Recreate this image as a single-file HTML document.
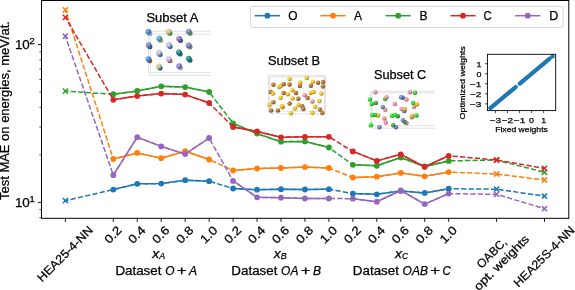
<!DOCTYPE html><html><head><meta charset="utf-8"><style>html,body{margin:0;padding:0;background:#fff;}svg{display:block;will-change:transform;}text{font-family:"Liberation Sans",sans-serif;fill:#000;stroke:#000;stroke-width:0.25px;}</style></head><body>
<svg width="575" height="290" viewBox="0 0 575 290">
<rect x="0" y="0" width="575" height="290" fill="#fff"/>
<defs><radialGradient id="g_lav" cx="0.36" cy="0.34" r="0.72"><stop offset="0" stop-color="#dedcf4"/><stop offset="0.5" stop-color="#c4c0ec"/><stop offset="1" stop-color="#797792"/></radialGradient><radialGradient id="g_blu" cx="0.36" cy="0.34" r="0.72"><stop offset="0" stop-color="#93bee8"/><stop offset="0.5" stop-color="#3c8ad6"/><stop offset="1" stop-color="#255584"/></radialGradient><radialGradient id="g_grn" cx="0.36" cy="0.34" r="0.72"><stop offset="0" stop-color="#92c792"/><stop offset="0.5" stop-color="#3a9a3a"/><stop offset="1" stop-color="#235f23"/></radialGradient><radialGradient id="g_kha" cx="0.36" cy="0.34" r="0.72"><stop offset="0" stop-color="#e8e0c1"/><stop offset="0.5" stop-color="#d6c890"/><stop offset="1" stop-color="#847c59"/></radialGradient><radialGradient id="g_lgr" cx="0.36" cy="0.34" r="0.72"><stop offset="0" stop-color="#a4d79b"/><stop offset="0.5" stop-color="#5ab84a"/><stop offset="1" stop-color="#37722d"/></radialGradient><radialGradient id="g_sla" cx="0.36" cy="0.34" r="0.72"><stop offset="0" stop-color="#b6b9dc"/><stop offset="0.5" stop-color="#7c80c0"/><stop offset="1" stop-color="#4c4f77"/></radialGradient><radialGradient id="g_yel" cx="0.36" cy="0.34" r="0.72"><stop offset="0" stop-color="#edd38d"/><stop offset="0.5" stop-color="#e0b030"/><stop offset="1" stop-color="#8a6d1d"/></radialGradient><radialGradient id="g_sky" cx="0.36" cy="0.34" r="0.72"><stop offset="0" stop-color="#98cef1"/><stop offset="0.5" stop-color="#44a6e6"/><stop offset="1" stop-color="#2a668e"/></radialGradient><radialGradient id="g_tea" cx="0.36" cy="0.34" r="0.72"><stop offset="0" stop-color="#83b4c1"/><stop offset="0.5" stop-color="#1f7890"/><stop offset="1" stop-color="#134a59"/></radialGradient><radialGradient id="g_pur" cx="0.36" cy="0.34" r="0.72"><stop offset="0" stop-color="#c6abdf"/><stop offset="0.5" stop-color="#9868c6"/><stop offset="1" stop-color="#5e407a"/></radialGradient><radialGradient id="g_oli" cx="0.36" cy="0.34" r="0.72"><stop offset="0" stop-color="#cacab0"/><stop offset="0.5" stop-color="#a0a070"/><stop offset="1" stop-color="#636345"/></radialGradient><radialGradient id="g_tel" cx="0.36" cy="0.34" r="0.72"><stop offset="0" stop-color="#85bdbe"/><stop offset="0.5" stop-color="#22888a"/><stop offset="1" stop-color="#155455"/></radialGradient><radialGradient id="g_org" cx="0.36" cy="0.34" r="0.72"><stop offset="0" stop-color="#e0a484"/><stop offset="0.5" stop-color="#c85a20"/><stop offset="1" stop-color="#7c3713"/></radialGradient><radialGradient id="g_red" cx="0.36" cy="0.34" r="0.72"><stop offset="0" stop-color="#e0a7a7"/><stop offset="0.5" stop-color="#c86060"/><stop offset="1" stop-color="#7c3b3b"/></radialGradient><radialGradient id="g_G" cx="0.36" cy="0.34" r="0.72"><stop offset="0" stop-color="#f6dd83"/><stop offset="0.5" stop-color="#f0c21e"/><stop offset="1" stop-color="#947812"/></radialGradient><radialGradient id="g_Br" cx="0.36" cy="0.34" r="0.72"><stop offset="0" stop-color="#d6af8c"/><stop offset="0.5" stop-color="#b56f2e"/><stop offset="1" stop-color="#70441c"/></radialGradient><radialGradient id="g_P" cx="0.36" cy="0.34" r="0.72"><stop offset="0" stop-color="#f1c1cb"/><stop offset="0.5" stop-color="#e68fa2"/><stop offset="1" stop-color="#8e5864"/></radialGradient><radialGradient id="g_BG" cx="0.36" cy="0.34" r="0.72"><stop offset="0" stop-color="#85ed85"/><stop offset="0.5" stop-color="#22e022"/><stop offset="1" stop-color="#158a15"/></radialGradient><radialGradient id="g_DG" cx="0.36" cy="0.34" r="0.72"><stop offset="0" stop-color="#93c993"/><stop offset="0.5" stop-color="#3c9e3c"/><stop offset="1" stop-color="#256125"/></radialGradient><radialGradient id="g_Bl" cx="0.36" cy="0.34" r="0.72"><stop offset="0" stop-color="#aeb9dc"/><stop offset="0.5" stop-color="#6c80c0"/><stop offset="1" stop-color="#424f77"/></radialGradient><radialGradient id="g_Go" cx="0.36" cy="0.34" r="0.72"><stop offset="0" stop-color="#f6d583"/><stop offset="0.5" stop-color="#f0b41e"/><stop offset="1" stop-color="#946f12"/></radialGradient></defs>
<line x1="148.5" y1="31.2" x2="210.6" y2="31.2" stroke="#d6d6d6" stroke-width="0.75"/>
<line x1="150.2" y1="34.2" x2="210.6" y2="34.2" stroke="#d6d6d6" stroke-width="0.75"/>
<line x1="148.5" y1="72.4" x2="210.6" y2="72.4" stroke="#d6d6d6" stroke-width="0.75"/>
<line x1="149.2" y1="75.2" x2="210.6" y2="75.2" stroke="#d6d6d6" stroke-width="0.75"/>
<line x1="148.5" y1="31.2" x2="148.5" y2="72.4" stroke="#d6d6d6" stroke-width="0.75"/>
<line x1="150.2" y1="34.2" x2="150.2" y2="75.2" stroke="#d6d6d6" stroke-width="0.75"/>
<circle cx="149.70" cy="33.50" r="2.5" fill="url(#g_lav)"/>
<circle cx="148.40" cy="31.80" r="2.8" fill="url(#g_blu)"/>
<circle cx="169.90" cy="33.30" r="2.5" fill="url(#g_grn)"/>
<circle cx="168.60" cy="31.60" r="2.8" fill="url(#g_kha)"/>
<circle cx="190.00" cy="33.20" r="2.5" fill="url(#g_lgr)"/>
<circle cx="188.70" cy="31.50" r="2.8" fill="url(#g_sla)"/>
<circle cx="160.50" cy="40.30" r="2.5" fill="url(#g_yel)"/>
<circle cx="159.20" cy="38.60" r="2.8" fill="url(#g_sky)"/>
<circle cx="180.50" cy="40.40" r="2.5" fill="url(#g_tea)"/>
<circle cx="179.20" cy="38.70" r="2.8" fill="url(#g_pur)"/>
<circle cx="149.90" cy="46.80" r="2.5" fill="url(#g_tea)"/>
<circle cx="148.60" cy="45.10" r="2.8" fill="url(#g_sla)"/>
<circle cx="170.10" cy="46.60" r="2.5" fill="url(#g_tea)"/>
<circle cx="168.80" cy="44.90" r="2.8" fill="url(#g_lav)"/>
<circle cx="190.00" cy="47.10" r="2.5" fill="url(#g_oli)"/>
<circle cx="188.70" cy="45.40" r="2.8" fill="url(#g_sla)"/>
<circle cx="160.10" cy="54.60" r="2.5" fill="url(#g_tea)"/>
<circle cx="158.80" cy="52.90" r="2.8" fill="url(#g_lav)"/>
<circle cx="180.20" cy="54.10" r="2.5" fill="url(#g_tea)"/>
<circle cx="178.90" cy="52.40" r="2.8" fill="url(#g_tel)"/>
<circle cx="149.70" cy="60.80" r="2.5" fill="url(#g_org)"/>
<circle cx="148.40" cy="59.10" r="2.8" fill="url(#g_blu)"/>
<circle cx="169.90" cy="60.80" r="2.5" fill="url(#g_red)"/>
<circle cx="168.60" cy="59.10" r="2.8" fill="url(#g_lav)"/>
<circle cx="190.00" cy="60.30" r="2.5" fill="url(#g_tea)"/>
<circle cx="188.70" cy="58.60" r="2.8" fill="url(#g_tel)"/>
<circle cx="160.10" cy="68.00" r="2.5" fill="url(#g_tea)"/>
<circle cx="158.80" cy="66.30" r="2.8" fill="url(#g_kha)"/>
<circle cx="180.40" cy="67.80" r="2.5" fill="url(#g_lav)"/>
<circle cx="179.10" cy="66.10" r="2.8" fill="url(#g_sla)"/>
<line x1="268.5" y1="75.4" x2="324.7" y2="75.4" stroke="#d6d6d6" stroke-width="0.75"/>
<line x1="269.8" y1="77.0" x2="325.4" y2="77.0" stroke="#d6d6d6" stroke-width="0.75"/>
<line x1="268.5" y1="111.3" x2="324.7" y2="111.3" stroke="#d6d6d6" stroke-width="0.75"/>
<line x1="269.8" y1="113.8" x2="325.4" y2="113.8" stroke="#d6d6d6" stroke-width="0.75"/>
<line x1="268.5" y1="75.4" x2="268.5" y2="111.3" stroke="#d6d6d6" stroke-width="0.75"/>
<line x1="269.8" y1="77.0" x2="269.8" y2="113.8" stroke="#d6d6d6" stroke-width="0.75"/>
<line x1="324.7" y1="75.4" x2="324.7" y2="111.3" stroke="#d6d6d6" stroke-width="0.75"/>
<line x1="325.4" y1="77.0" x2="325.4" y2="113.8" stroke="#d6d6d6" stroke-width="0.75"/>
<circle cx="289.6" cy="79.0" r="2.25" fill="url(#g_G)"/>
<circle cx="273.4" cy="84.8" r="2.25" fill="url(#g_Br)"/>
<circle cx="279.2" cy="86.9" r="2.25" fill="url(#g_G)"/>
<circle cx="280.6" cy="86.1" r="2.25" fill="url(#g_G)"/>
<circle cx="283.7" cy="84.3" r="2.25" fill="url(#g_Br)"/>
<circle cx="289.6" cy="84.5" r="2.25" fill="url(#g_Br)"/>
<circle cx="292.3" cy="90.2" r="2.25" fill="url(#g_G)"/>
<circle cx="296.0" cy="92.9" r="2.25" fill="url(#g_Br)"/>
<circle cx="270.7" cy="92.0" r="2.25" fill="url(#g_Br)"/>
<circle cx="273.0" cy="93.5" r="2.25" fill="url(#g_G)"/>
<circle cx="283.7" cy="93.1" r="2.25" fill="url(#g_Br)"/>
<circle cx="287.8" cy="94.2" r="2.25" fill="url(#g_G)"/>
<circle cx="306.8" cy="78.1" r="2.25" fill="url(#g_G)"/>
<circle cx="299.8" cy="86.0" r="2.25" fill="url(#g_Br)"/>
<circle cx="300.3" cy="82.6" r="2.25" fill="url(#g_G)"/>
<circle cx="310.9" cy="85.7" r="2.25" fill="url(#g_Br)"/>
<circle cx="312.8" cy="81.7" r="2.25" fill="url(#g_G)"/>
<circle cx="318.0" cy="82.7" r="2.25" fill="url(#g_Br)"/>
<circle cx="323.1" cy="82.1" r="2.25" fill="url(#g_Br)"/>
<circle cx="322.9" cy="86.6" r="2.25" fill="url(#g_Br)"/>
<circle cx="310.6" cy="92.9" r="2.25" fill="url(#g_G)"/>
<circle cx="313.6" cy="92.0" r="2.25" fill="url(#g_G)"/>
<circle cx="321.4" cy="93.5" r="2.25" fill="url(#g_G)"/>
<circle cx="304.8" cy="95.3" r="2.25" fill="url(#g_P)"/>
<circle cx="280.6" cy="97.8" r="2.25" fill="url(#g_G)"/>
<circle cx="292.7" cy="98.5" r="2.25" fill="url(#g_G)"/>
<circle cx="298.3" cy="98.7" r="2.25" fill="url(#g_Br)"/>
<circle cx="273.4" cy="102.3" r="2.25" fill="url(#g_Br)"/>
<circle cx="269.4" cy="105.0" r="2.25" fill="url(#g_G)"/>
<circle cx="289.6" cy="103.5" r="2.25" fill="url(#g_Br)"/>
<circle cx="282.8" cy="107.2" r="2.25" fill="url(#g_G)"/>
<circle cx="281.9" cy="106.3" r="2.25" fill="url(#g_G)"/>
<circle cx="294.9" cy="108.6" r="2.25" fill="url(#g_G)"/>
<circle cx="298.5" cy="105.0" r="2.25" fill="url(#g_G)"/>
<circle cx="271.2" cy="110.4" r="2.25" fill="url(#g_Br)"/>
<circle cx="277.9" cy="110.4" r="2.25" fill="url(#g_Br)"/>
<circle cx="290.9" cy="113.3" r="2.25" fill="url(#g_G)"/>
<circle cx="307.6" cy="98.1" r="2.25" fill="url(#g_Br)"/>
<circle cx="312.4" cy="101.4" r="2.25" fill="url(#g_P)"/>
<circle cx="319.3" cy="101.1" r="2.25" fill="url(#g_G)"/>
<circle cx="302.3" cy="106.3" r="2.25" fill="url(#g_Br)"/>
<circle cx="303.4" cy="108.9" r="2.25" fill="url(#g_Br)"/>
<circle cx="315.1" cy="106.8" r="2.25" fill="url(#g_G)"/>
<circle cx="320.0" cy="109.5" r="2.25" fill="url(#g_Br)"/>
<circle cx="322.3" cy="113.1" r="2.25" fill="url(#g_Br)"/>
<circle cx="312.4" cy="112.8" r="2.25" fill="url(#g_G)"/>
<line x1="370.9" y1="91.4" x2="434.8" y2="91.4" stroke="#d6d6d6" stroke-width="0.75"/>
<line x1="371.8" y1="93.0" x2="434.8" y2="93.0" stroke="#d6d6d6" stroke-width="0.75"/>
<line x1="370.9" y1="125.7" x2="434.8" y2="125.7" stroke="#d6d6d6" stroke-width="0.75"/>
<line x1="371.8" y1="128.2" x2="434.8" y2="128.2" stroke="#d6d6d6" stroke-width="0.75"/>
<line x1="370.9" y1="91.4" x2="370.9" y2="125.7" stroke="#d6d6d6" stroke-width="0.75"/>
<line x1="371.8" y1="93.0" x2="371.8" y2="128.2" stroke="#d6d6d6" stroke-width="0.75"/>
<circle cx="375.4" cy="92.3" r="2.25" fill="url(#g_P)"/>
<circle cx="370.0" cy="99.4" r="2.25" fill="url(#g_BG)"/>
<circle cx="375.8" cy="103.0" r="2.25" fill="url(#g_DG)"/>
<circle cx="371.8" cy="103.9" r="2.25" fill="url(#g_BG)"/>
<circle cx="385.2" cy="99.0" r="2.25" fill="url(#g_BG)"/>
<circle cx="386.4" cy="97.2" r="2.25" fill="url(#g_P)"/>
<circle cx="394.8" cy="104.1" r="2.25" fill="url(#g_P)"/>
<circle cx="385.2" cy="109.8" r="2.25" fill="url(#g_P)"/>
<circle cx="382.8" cy="107.0" r="2.25" fill="url(#g_Bl)"/>
<circle cx="410.1" cy="92.3" r="2.25" fill="url(#g_P)"/>
<circle cx="415.0" cy="92.7" r="2.25" fill="url(#g_BG)"/>
<circle cx="406.5" cy="99.6" r="2.25" fill="url(#g_P)"/>
<circle cx="402.9" cy="97.7" r="2.25" fill="url(#g_Bl)"/>
<circle cx="401.1" cy="97.2" r="2.25" fill="url(#g_Bl)"/>
<circle cx="414.0" cy="106.8" r="2.25" fill="url(#g_P)"/>
<circle cx="413.2" cy="103.0" r="2.25" fill="url(#g_BG)"/>
<circle cx="417.0" cy="104.4" r="2.25" fill="url(#g_Go)"/>
<circle cx="404.3" cy="110.9" r="2.25" fill="url(#g_Bl)"/>
<circle cx="401.6" cy="109.0" r="2.25" fill="url(#g_P)"/>
<circle cx="404.7" cy="109.0" r="2.25" fill="url(#g_Go)"/>
<circle cx="378.1" cy="115.4" r="2.25" fill="url(#g_Go)"/>
<circle cx="375.0" cy="115.0" r="2.25" fill="url(#g_BG)"/>
<circle cx="372.3" cy="115.0" r="2.25" fill="url(#g_BG)"/>
<circle cx="384.4" cy="118.4" r="2.25" fill="url(#g_P)"/>
<circle cx="385.7" cy="122.6" r="2.25" fill="url(#g_P)"/>
<circle cx="397.8" cy="116.3" r="2.25" fill="url(#g_DG)"/>
<circle cx="395.1" cy="115.1" r="2.25" fill="url(#g_BG)"/>
<circle cx="392.0" cy="115.8" r="2.25" fill="url(#g_BG)"/>
<circle cx="370.9" cy="125.2" r="2.25" fill="url(#g_BG)"/>
<circle cx="379.4" cy="127.3" r="2.25" fill="url(#g_Bl)"/>
<circle cx="396.0" cy="127.3" r="2.25" fill="url(#g_Bl)"/>
<circle cx="393.3" cy="125.2" r="2.25" fill="url(#g_DG)"/>
<circle cx="411.9" cy="117.2" r="2.25" fill="url(#g_P)"/>
<circle cx="412.3" cy="115.7" r="2.25" fill="url(#g_Go)"/>
<circle cx="416.4" cy="115.4" r="2.25" fill="url(#g_BG)"/>
<circle cx="406.5" cy="122.9" r="2.25" fill="url(#g_P)"/>
<circle cx="404.7" cy="122.1" r="2.25" fill="url(#g_DG)"/>
<circle cx="402.9" cy="120.3" r="2.25" fill="url(#g_Bl)"/>
<polyline points="65.40,200.70 113.31,189.60 137.26,183.80 161.22,183.60 185.18,180.20 209.13,181.20 233.09,188.50 257.04,189.70 281.00,189.20 304.95,189.50 328.90,189.20 352.86,193.60 376.81,194.30 400.77,190.90 424.73,192.90 448.68,188.70 496.59,189.20 544.50,196.20" stroke="#1f77b4" stroke-width="1.5" stroke-dasharray="5.25 2.2" stroke-dashoffset="2.1" fill="none"/>
<polyline points="113.31,189.60 137.26,183.80 161.22,183.60 185.18,180.20 209.13,181.20" stroke="#1f77b4" stroke-width="1.5" fill="none" stroke-linejoin="round"/>
<polyline points="233.09,188.50 257.04,189.70 281.00,189.20 304.95,189.50 328.90,189.20" stroke="#1f77b4" stroke-width="1.5" fill="none" stroke-linejoin="round"/>
<polyline points="352.86,193.60 376.81,194.30 400.77,190.90 424.73,192.90 448.68,188.70" stroke="#1f77b4" stroke-width="1.5" fill="none" stroke-linejoin="round"/>
<path d="M62.80,198.10L68.00,203.30M62.80,203.30L68.00,198.10" stroke="#1f77b4" stroke-width="1.5" fill="none"/>
<circle cx="113.31" cy="189.60" r="2.9" fill="#1f77b4"/>
<circle cx="137.26" cy="183.80" r="2.9" fill="#1f77b4"/>
<circle cx="161.22" cy="183.60" r="2.9" fill="#1f77b4"/>
<circle cx="185.18" cy="180.20" r="2.9" fill="#1f77b4"/>
<circle cx="209.13" cy="181.20" r="2.9" fill="#1f77b4"/>
<circle cx="233.09" cy="188.50" r="2.9" fill="#1f77b4"/>
<circle cx="257.04" cy="189.70" r="2.9" fill="#1f77b4"/>
<circle cx="281.00" cy="189.20" r="2.9" fill="#1f77b4"/>
<circle cx="304.95" cy="189.50" r="2.9" fill="#1f77b4"/>
<circle cx="328.90" cy="189.20" r="2.9" fill="#1f77b4"/>
<circle cx="352.86" cy="193.60" r="2.9" fill="#1f77b4"/>
<circle cx="376.81" cy="194.30" r="2.9" fill="#1f77b4"/>
<circle cx="400.77" cy="190.90" r="2.9" fill="#1f77b4"/>
<circle cx="424.73" cy="192.90" r="2.9" fill="#1f77b4"/>
<circle cx="448.68" cy="188.70" r="2.9" fill="#1f77b4"/>
<path d="M493.99,186.60L499.19,191.80M493.99,191.80L499.19,186.60" stroke="#1f77b4" stroke-width="1.5" fill="none"/>
<path d="M541.90,193.60L547.10,198.80M541.90,198.80L547.10,193.60" stroke="#1f77b4" stroke-width="1.5" fill="none"/>
<polyline points="65.40,9.90 113.31,159.00 137.26,152.90 161.22,158.20 185.18,151.20 209.13,159.50 233.09,170.50 257.04,168.50 281.00,168.00 304.95,167.10 328.90,168.00 352.86,177.50 376.81,176.70 400.77,172.90 424.73,176.30 448.68,172.10 496.59,174.00 544.50,180.00" stroke="#ff7f0e" stroke-width="1.5" stroke-dasharray="5.25 2.2" stroke-dashoffset="2.1" fill="none"/>
<polyline points="113.31,159.00 137.26,152.90 161.22,158.20 185.18,151.20 209.13,159.50" stroke="#ff7f0e" stroke-width="1.5" fill="none" stroke-linejoin="round"/>
<polyline points="233.09,170.50 257.04,168.50 281.00,168.00 304.95,167.10 328.90,168.00" stroke="#ff7f0e" stroke-width="1.5" fill="none" stroke-linejoin="round"/>
<polyline points="352.86,177.50 376.81,176.70 400.77,172.90 424.73,176.30 448.68,172.10" stroke="#ff7f0e" stroke-width="1.5" fill="none" stroke-linejoin="round"/>
<path d="M62.80,7.30L68.00,12.50M62.80,12.50L68.00,7.30" stroke="#ff7f0e" stroke-width="1.5" fill="none"/>
<circle cx="113.31" cy="159.00" r="2.9" fill="#ff7f0e"/>
<circle cx="137.26" cy="152.90" r="2.9" fill="#ff7f0e"/>
<circle cx="161.22" cy="158.20" r="2.9" fill="#ff7f0e"/>
<circle cx="185.18" cy="151.20" r="2.9" fill="#ff7f0e"/>
<circle cx="209.13" cy="159.50" r="2.9" fill="#ff7f0e"/>
<circle cx="233.09" cy="170.50" r="2.9" fill="#ff7f0e"/>
<circle cx="257.04" cy="168.50" r="2.9" fill="#ff7f0e"/>
<circle cx="281.00" cy="168.00" r="2.9" fill="#ff7f0e"/>
<circle cx="304.95" cy="167.10" r="2.9" fill="#ff7f0e"/>
<circle cx="328.90" cy="168.00" r="2.9" fill="#ff7f0e"/>
<circle cx="352.86" cy="177.50" r="2.9" fill="#ff7f0e"/>
<circle cx="376.81" cy="176.70" r="2.9" fill="#ff7f0e"/>
<circle cx="400.77" cy="172.90" r="2.9" fill="#ff7f0e"/>
<circle cx="424.73" cy="176.30" r="2.9" fill="#ff7f0e"/>
<circle cx="448.68" cy="172.10" r="2.9" fill="#ff7f0e"/>
<path d="M493.99,171.40L499.19,176.60M493.99,176.60L499.19,171.40" stroke="#ff7f0e" stroke-width="1.5" fill="none"/>
<path d="M541.90,177.40L547.10,182.60M541.90,182.60L547.10,177.40" stroke="#ff7f0e" stroke-width="1.5" fill="none"/>
<polyline points="65.40,91.10 113.31,94.20 137.26,90.90 161.22,86.30 185.18,87.10 209.13,91.90 233.09,123.40 257.04,133.60 281.00,141.70 304.95,141.40 328.90,147.50 352.86,164.80 376.81,165.80 400.77,157.50 424.73,166.50 448.68,160.90 496.59,160.00 544.50,172.30" stroke="#2ca02c" stroke-width="1.5" stroke-dasharray="5.25 2.2" stroke-dashoffset="2.1" fill="none"/>
<polyline points="113.31,94.20 137.26,90.90 161.22,86.30 185.18,87.10 209.13,91.90" stroke="#2ca02c" stroke-width="1.5" fill="none" stroke-linejoin="round"/>
<polyline points="233.09,123.40 257.04,133.60 281.00,141.70 304.95,141.40 328.90,147.50" stroke="#2ca02c" stroke-width="1.5" fill="none" stroke-linejoin="round"/>
<polyline points="352.86,164.80 376.81,165.80 400.77,157.50 424.73,166.50 448.68,160.90" stroke="#2ca02c" stroke-width="1.5" fill="none" stroke-linejoin="round"/>
<path d="M62.80,88.50L68.00,93.70M62.80,93.70L68.00,88.50" stroke="#2ca02c" stroke-width="1.5" fill="none"/>
<circle cx="113.31" cy="94.20" r="2.9" fill="#2ca02c"/>
<circle cx="137.26" cy="90.90" r="2.9" fill="#2ca02c"/>
<circle cx="161.22" cy="86.30" r="2.9" fill="#2ca02c"/>
<circle cx="185.18" cy="87.10" r="2.9" fill="#2ca02c"/>
<circle cx="209.13" cy="91.90" r="2.9" fill="#2ca02c"/>
<circle cx="233.09" cy="123.40" r="2.9" fill="#2ca02c"/>
<circle cx="257.04" cy="133.60" r="2.9" fill="#2ca02c"/>
<circle cx="281.00" cy="141.70" r="2.9" fill="#2ca02c"/>
<circle cx="304.95" cy="141.40" r="2.9" fill="#2ca02c"/>
<circle cx="328.90" cy="147.50" r="2.9" fill="#2ca02c"/>
<circle cx="352.86" cy="164.80" r="2.9" fill="#2ca02c"/>
<circle cx="376.81" cy="165.80" r="2.9" fill="#2ca02c"/>
<circle cx="400.77" cy="157.50" r="2.9" fill="#2ca02c"/>
<circle cx="424.73" cy="166.50" r="2.9" fill="#2ca02c"/>
<circle cx="448.68" cy="160.90" r="2.9" fill="#2ca02c"/>
<path d="M493.99,157.40L499.19,162.60M493.99,162.60L499.19,157.40" stroke="#2ca02c" stroke-width="1.5" fill="none"/>
<path d="M541.90,169.70L547.10,174.90M541.90,174.90L547.10,169.70" stroke="#2ca02c" stroke-width="1.5" fill="none"/>
<polyline points="65.40,17.40 113.31,99.80 137.26,96.10 161.22,93.60 185.18,94.60 209.13,103.00 233.09,127.00 257.04,131.40 281.00,137.30 304.95,136.80 328.90,136.80 352.86,151.40 376.81,160.90 400.77,154.30 424.73,166.80 448.68,155.80 496.59,160.00 544.50,168.40" stroke="#d62728" stroke-width="1.5" stroke-dasharray="5.25 2.2" stroke-dashoffset="2.1" fill="none"/>
<polyline points="113.31,99.80 137.26,96.10 161.22,93.60 185.18,94.60 209.13,103.00" stroke="#d62728" stroke-width="1.5" fill="none" stroke-linejoin="round"/>
<polyline points="233.09,127.00 257.04,131.40 281.00,137.30 304.95,136.80 328.90,136.80" stroke="#d62728" stroke-width="1.5" fill="none" stroke-linejoin="round"/>
<polyline points="352.86,151.40 376.81,160.90 400.77,154.30 424.73,166.80 448.68,155.80" stroke="#d62728" stroke-width="1.5" fill="none" stroke-linejoin="round"/>
<path d="M62.80,14.80L68.00,20.00M62.80,20.00L68.00,14.80" stroke="#d62728" stroke-width="1.5" fill="none"/>
<circle cx="113.31" cy="99.80" r="2.9" fill="#d62728"/>
<circle cx="137.26" cy="96.10" r="2.9" fill="#d62728"/>
<circle cx="161.22" cy="93.60" r="2.9" fill="#d62728"/>
<circle cx="185.18" cy="94.60" r="2.9" fill="#d62728"/>
<circle cx="209.13" cy="103.00" r="2.9" fill="#d62728"/>
<circle cx="233.09" cy="127.00" r="2.9" fill="#d62728"/>
<circle cx="257.04" cy="131.40" r="2.9" fill="#d62728"/>
<circle cx="281.00" cy="137.30" r="2.9" fill="#d62728"/>
<circle cx="304.95" cy="136.80" r="2.9" fill="#d62728"/>
<circle cx="328.90" cy="136.80" r="2.9" fill="#d62728"/>
<circle cx="352.86" cy="151.40" r="2.9" fill="#d62728"/>
<circle cx="376.81" cy="160.90" r="2.9" fill="#d62728"/>
<circle cx="400.77" cy="154.30" r="2.9" fill="#d62728"/>
<circle cx="424.73" cy="166.80" r="2.9" fill="#d62728"/>
<circle cx="448.68" cy="155.80" r="2.9" fill="#d62728"/>
<path d="M493.99,157.40L499.19,162.60M493.99,162.60L499.19,157.40" stroke="#d62728" stroke-width="1.5" fill="none"/>
<path d="M541.90,165.80L547.10,171.00M541.90,171.00L547.10,165.80" stroke="#d62728" stroke-width="1.5" fill="none"/>
<polyline points="65.40,36.20 113.31,175.20 137.26,137.20 161.22,146.40 185.18,154.10 209.13,138.00 233.09,180.90 257.04,197.30 281.00,197.70 304.95,198.50 328.90,198.50 352.86,198.70 376.81,201.70 400.77,190.50 424.73,204.10 448.68,193.60 496.59,194.30 544.50,208.70" stroke="#9467bd" stroke-width="1.5" stroke-dasharray="5.25 2.2" stroke-dashoffset="2.1" fill="none"/>
<polyline points="113.31,175.20 137.26,137.20 161.22,146.40 185.18,154.10 209.13,138.00" stroke="#9467bd" stroke-width="1.5" fill="none" stroke-linejoin="round"/>
<polyline points="233.09,180.90 257.04,197.30 281.00,197.70 304.95,198.50 328.90,198.50" stroke="#9467bd" stroke-width="1.5" fill="none" stroke-linejoin="round"/>
<polyline points="352.86,198.70 376.81,201.70 400.77,190.50 424.73,204.10 448.68,193.60" stroke="#9467bd" stroke-width="1.5" fill="none" stroke-linejoin="round"/>
<path d="M62.80,33.60L68.00,38.80M62.80,38.80L68.00,33.60" stroke="#9467bd" stroke-width="1.5" fill="none"/>
<circle cx="113.31" cy="175.20" r="2.9" fill="#9467bd"/>
<circle cx="137.26" cy="137.20" r="2.9" fill="#9467bd"/>
<circle cx="161.22" cy="146.40" r="2.9" fill="#9467bd"/>
<circle cx="185.18" cy="154.10" r="2.9" fill="#9467bd"/>
<circle cx="209.13" cy="138.00" r="2.9" fill="#9467bd"/>
<circle cx="233.09" cy="180.90" r="2.9" fill="#9467bd"/>
<circle cx="257.04" cy="197.30" r="2.9" fill="#9467bd"/>
<circle cx="281.00" cy="197.70" r="2.9" fill="#9467bd"/>
<circle cx="304.95" cy="198.50" r="2.9" fill="#9467bd"/>
<circle cx="328.90" cy="198.50" r="2.9" fill="#9467bd"/>
<circle cx="352.86" cy="198.70" r="2.9" fill="#9467bd"/>
<circle cx="376.81" cy="201.70" r="2.9" fill="#9467bd"/>
<circle cx="400.77" cy="190.50" r="2.9" fill="#9467bd"/>
<circle cx="424.73" cy="204.10" r="2.9" fill="#9467bd"/>
<circle cx="448.68" cy="193.60" r="2.9" fill="#9467bd"/>
<path d="M493.99,191.70L499.19,196.90M493.99,196.90L499.19,191.70" stroke="#9467bd" stroke-width="1.5" fill="none"/>
<path d="M541.90,206.10L547.10,211.30M541.90,211.30L547.10,206.10" stroke="#9467bd" stroke-width="1.5" fill="none"/>
<rect x="41.5" y="0.5" width="527.3" height="217.8" fill="none" stroke="#000" stroke-width="1"/>
<line x1="37.9" y1="202.40" x2="41.5" y2="202.40" stroke="#000" stroke-width="0.9"/>
<line x1="37.9" y1="44.50" x2="41.5" y2="44.50" stroke="#000" stroke-width="0.9"/>
<line x1="39.4" y1="217.70" x2="41.5" y2="217.70" stroke="#000" stroke-width="0.7"/>
<line x1="39.4" y1="209.63" x2="41.5" y2="209.63" stroke="#000" stroke-width="0.7"/>
<line x1="39.4" y1="154.87" x2="41.5" y2="154.87" stroke="#000" stroke-width="0.7"/>
<line x1="39.4" y1="127.06" x2="41.5" y2="127.06" stroke="#000" stroke-width="0.7"/>
<line x1="39.4" y1="107.33" x2="41.5" y2="107.33" stroke="#000" stroke-width="0.7"/>
<line x1="39.4" y1="92.03" x2="41.5" y2="92.03" stroke="#000" stroke-width="0.7"/>
<line x1="39.4" y1="79.53" x2="41.5" y2="79.53" stroke="#000" stroke-width="0.7"/>
<line x1="39.4" y1="68.96" x2="41.5" y2="68.96" stroke="#000" stroke-width="0.7"/>
<line x1="39.4" y1="59.80" x2="41.5" y2="59.80" stroke="#000" stroke-width="0.7"/>
<line x1="39.4" y1="51.73" x2="41.5" y2="51.73" stroke="#000" stroke-width="0.7"/>
<line x1="65.40" y1="218.3" x2="65.40" y2="221.9" stroke="#000" stroke-width="0.9"/>
<line x1="113.31" y1="218.3" x2="113.31" y2="221.9" stroke="#000" stroke-width="0.9"/>
<line x1="137.26" y1="218.3" x2="137.26" y2="221.9" stroke="#000" stroke-width="0.9"/>
<line x1="161.22" y1="218.3" x2="161.22" y2="221.9" stroke="#000" stroke-width="0.9"/>
<line x1="185.18" y1="218.3" x2="185.18" y2="221.9" stroke="#000" stroke-width="0.9"/>
<line x1="209.13" y1="218.3" x2="209.13" y2="221.9" stroke="#000" stroke-width="0.9"/>
<line x1="233.09" y1="218.3" x2="233.09" y2="221.9" stroke="#000" stroke-width="0.9"/>
<line x1="257.04" y1="218.3" x2="257.04" y2="221.9" stroke="#000" stroke-width="0.9"/>
<line x1="281.00" y1="218.3" x2="281.00" y2="221.9" stroke="#000" stroke-width="0.9"/>
<line x1="304.95" y1="218.3" x2="304.95" y2="221.9" stroke="#000" stroke-width="0.9"/>
<line x1="328.90" y1="218.3" x2="328.90" y2="221.9" stroke="#000" stroke-width="0.9"/>
<line x1="352.86" y1="218.3" x2="352.86" y2="221.9" stroke="#000" stroke-width="0.9"/>
<line x1="376.81" y1="218.3" x2="376.81" y2="221.9" stroke="#000" stroke-width="0.9"/>
<line x1="400.77" y1="218.3" x2="400.77" y2="221.9" stroke="#000" stroke-width="0.9"/>
<line x1="424.73" y1="218.3" x2="424.73" y2="221.9" stroke="#000" stroke-width="0.9"/>
<line x1="448.68" y1="218.3" x2="448.68" y2="221.9" stroke="#000" stroke-width="0.9"/>
<line x1="496.59" y1="218.3" x2="496.59" y2="221.9" stroke="#000" stroke-width="0.9"/>
<line x1="544.50" y1="218.3" x2="544.50" y2="221.9" stroke="#000" stroke-width="0.9"/>
<text x="14.90" y="206.50" font-size="11.9" textLength="14.95" lengthAdjust="spacingAndGlyphs">10</text>
<text x="29.60" y="201.50" font-size="8.33" textLength="5.23" lengthAdjust="spacingAndGlyphs">1</text>
<text x="14.90" y="48.60" font-size="11.9" textLength="14.95" lengthAdjust="spacingAndGlyphs">10</text>
<text x="29.60" y="43.60" font-size="8.33" textLength="5.23" lengthAdjust="spacingAndGlyphs">2</text>
<g transform="translate(9.3,110.6) rotate(-90)"><text x="0.00" y="0.00" font-size="11.9" text-anchor="middle" textLength="178.87" lengthAdjust="spacingAndGlyphs">Test MAE on energies, meV/at.</text></g>
<g transform="translate(64.80,253.66) rotate(-45)"><text x="0.00" y="4.28" font-size="11.9" text-anchor="middle" textLength="72.78" lengthAdjust="spacingAndGlyphs">HEA25-4-NN</text></g>
<g transform="translate(112.71,234.53) rotate(-45)"><text x="0.00" y="4.28" font-size="11.9" text-anchor="middle" textLength="18.69" lengthAdjust="spacingAndGlyphs">0.2</text></g>
<g transform="translate(136.66,234.53) rotate(-45)"><text x="0.00" y="4.28" font-size="11.9" text-anchor="middle" textLength="18.69" lengthAdjust="spacingAndGlyphs">0.4</text></g>
<g transform="translate(160.62,234.53) rotate(-45)"><text x="0.00" y="4.28" font-size="11.9" text-anchor="middle" textLength="18.69" lengthAdjust="spacingAndGlyphs">0.6</text></g>
<g transform="translate(184.58,234.53) rotate(-45)"><text x="0.00" y="4.28" font-size="11.9" text-anchor="middle" textLength="18.69" lengthAdjust="spacingAndGlyphs">0.8</text></g>
<g transform="translate(208.53,234.53) rotate(-45)"><text x="0.00" y="4.28" font-size="11.9" text-anchor="middle" textLength="18.69" lengthAdjust="spacingAndGlyphs">1.0</text></g>
<g transform="translate(232.49,234.53) rotate(-45)"><text x="0.00" y="4.28" font-size="11.9" text-anchor="middle" textLength="18.69" lengthAdjust="spacingAndGlyphs">0.2</text></g>
<g transform="translate(256.44,234.53) rotate(-45)"><text x="0.00" y="4.28" font-size="11.9" text-anchor="middle" textLength="18.69" lengthAdjust="spacingAndGlyphs">0.4</text></g>
<g transform="translate(280.39,234.53) rotate(-45)"><text x="0.00" y="4.28" font-size="11.9" text-anchor="middle" textLength="18.69" lengthAdjust="spacingAndGlyphs">0.6</text></g>
<g transform="translate(304.35,234.53) rotate(-45)"><text x="0.00" y="4.28" font-size="11.9" text-anchor="middle" textLength="18.69" lengthAdjust="spacingAndGlyphs">0.8</text></g>
<g transform="translate(328.30,234.53) rotate(-45)"><text x="0.00" y="4.28" font-size="11.9" text-anchor="middle" textLength="18.69" lengthAdjust="spacingAndGlyphs">1.0</text></g>
<g transform="translate(352.26,234.53) rotate(-45)"><text x="0.00" y="4.28" font-size="11.9" text-anchor="middle" textLength="18.69" lengthAdjust="spacingAndGlyphs">0.2</text></g>
<g transform="translate(376.21,234.53) rotate(-45)"><text x="0.00" y="4.28" font-size="11.9" text-anchor="middle" textLength="18.69" lengthAdjust="spacingAndGlyphs">0.4</text></g>
<g transform="translate(400.17,234.53) rotate(-45)"><text x="0.00" y="4.28" font-size="11.9" text-anchor="middle" textLength="18.69" lengthAdjust="spacingAndGlyphs">0.6</text></g>
<g transform="translate(424.12,234.53) rotate(-45)"><text x="0.00" y="4.28" font-size="11.9" text-anchor="middle" textLength="18.69" lengthAdjust="spacingAndGlyphs">0.8</text></g>
<g transform="translate(448.08,234.53) rotate(-45)"><text x="0.00" y="4.28" font-size="11.9" text-anchor="middle" textLength="18.69" lengthAdjust="spacingAndGlyphs">1.0</text></g>
<g transform="translate(543.90,256.29) rotate(-45)"><text x="0.00" y="4.28" font-size="11.9" text-anchor="middle" textLength="80.24" lengthAdjust="spacingAndGlyphs">HEA25S-4-NN</text></g>
<g transform="translate(495.99,257.3) rotate(-45)"><text x="0.00" y="-2.00" font-size="11.9" text-anchor="middle" textLength="36.87" lengthAdjust="spacingAndGlyphs">OABC,</text><text x="0.00" y="11.70" font-size="11.9" text-anchor="middle" textLength="72.46" lengthAdjust="spacingAndGlyphs">opt. weights</text></g>
<text x="152.31" y="257.80" font-size="11.9" font-style="italic" textLength="6.95" lengthAdjust="spacingAndGlyphs">x</text>
<text x="159.36" y="259.40" font-size="9.044" font-style="italic" textLength="5.95" lengthAdjust="spacingAndGlyphs">A</text>
<text x="273.70" y="257.80" font-size="11.9" font-style="italic" textLength="6.95" lengthAdjust="spacingAndGlyphs">x</text>
<text x="280.76" y="259.40" font-size="9.044" font-style="italic" textLength="5.97" lengthAdjust="spacingAndGlyphs">B</text>
<text x="395.05" y="257.80" font-size="11.9" font-style="italic" textLength="6.95" lengthAdjust="spacingAndGlyphs">x</text>
<text x="402.11" y="259.40" font-size="9.044" font-style="italic" textLength="6.07" lengthAdjust="spacingAndGlyphs">C</text>
<text x="115.41" y="275.30" font-size="11.9" textLength="46.01" lengthAdjust="spacingAndGlyphs">Dataset</text>
<text x="165.16" y="275.30" font-size="11.9" font-style="italic" textLength="9.25" lengthAdjust="spacingAndGlyphs">O</text>
<text x="176.76" y="275.30" font-size="11.9" textLength="9.85" lengthAdjust="spacingAndGlyphs">+</text>
<text x="188.95" y="275.30" font-size="11.9" font-style="italic" textLength="8.04" lengthAdjust="spacingAndGlyphs">A</text>
<text x="231.38" y="275.30" font-size="11.9" textLength="46.01" lengthAdjust="spacingAndGlyphs">Dataset</text>
<text x="281.13" y="275.30" font-size="11.9" font-style="italic" textLength="17.29" lengthAdjust="spacingAndGlyphs">OA</text>
<text x="300.76" y="275.30" font-size="11.9" textLength="9.85" lengthAdjust="spacingAndGlyphs">+</text>
<text x="312.96" y="275.30" font-size="11.9" font-style="italic" textLength="8.06" lengthAdjust="spacingAndGlyphs">B</text>
<text x="352.88" y="275.30" font-size="11.9" textLength="46.01" lengthAdjust="spacingAndGlyphs">Dataset</text>
<text x="402.63" y="275.30" font-size="11.9" font-style="italic" textLength="25.35" lengthAdjust="spacingAndGlyphs">OAB</text>
<text x="430.32" y="275.30" font-size="11.9" textLength="9.85" lengthAdjust="spacingAndGlyphs">+</text>
<text x="442.52" y="275.30" font-size="11.9" font-style="italic" textLength="8.20" lengthAdjust="spacingAndGlyphs">C</text>
<rect x="250.4" y="6.3" width="312.5" height="21.1" rx="2.2" ry="2.2" fill="#fff" fill-opacity="0.8" stroke="#d6d6d6" stroke-width="1"/>
<line x1="254.8" y1="15.7" x2="280.0" y2="15.7" stroke="#1f77b4" stroke-width="1.5"/>
<circle cx="267.4" cy="15.7" r="2.9" fill="#1f77b4"/>
<text x="288.20" y="20.00" font-size="11.9" textLength="9.25" lengthAdjust="spacingAndGlyphs">O</text>
<line x1="320.4" y1="15.7" x2="345.6" y2="15.7" stroke="#ff7f0e" stroke-width="1.5"/>
<circle cx="333.0" cy="15.7" r="2.9" fill="#ff7f0e"/>
<text x="354.00" y="20.00" font-size="11.9" textLength="8.04" lengthAdjust="spacingAndGlyphs">A</text>
<line x1="385.6" y1="15.7" x2="410.8" y2="15.7" stroke="#2ca02c" stroke-width="1.5"/>
<circle cx="398.2" cy="15.7" r="2.9" fill="#2ca02c"/>
<text x="419.50" y="20.00" font-size="11.9" textLength="8.06" lengthAdjust="spacingAndGlyphs">B</text>
<line x1="450.4" y1="15.7" x2="475.6" y2="15.7" stroke="#d62728" stroke-width="1.5"/>
<circle cx="463.0" cy="15.7" r="2.9" fill="#d62728"/>
<text x="483.60" y="20.00" font-size="11.9" textLength="8.20" lengthAdjust="spacingAndGlyphs">C</text>
<line x1="515.2" y1="15.7" x2="540.4" y2="15.7" stroke="#9467bd" stroke-width="1.5"/>
<circle cx="527.8" cy="15.7" r="2.9" fill="#9467bd"/>
<text x="549.20" y="20.00" font-size="11.9" textLength="9.05" lengthAdjust="spacingAndGlyphs">D</text>
<text x="146.40" y="22.00" font-size="11.9" textLength="52.09" lengthAdjust="spacingAndGlyphs">Subset A</text>
<text x="268.00" y="65.30" font-size="11.9" textLength="52.12" lengthAdjust="spacingAndGlyphs">Subset B</text>
<text x="374.00" y="79.00" font-size="11.9" textLength="52.26" lengthAdjust="spacingAndGlyphs">Subset C</text>
<rect x="487.4" y="54.3" width="68.3" height="56.3" fill="#fff" stroke="none"/>
<line x1="490.39" y1="108.12" x2="515.69" y2="87.02" stroke="#1f77b4" stroke-width="4.2" stroke-linecap="round"/>
<line x1="519.79" y1="83.60" x2="549.68" y2="58.67" stroke="#1f77b4" stroke-width="4.2" stroke-linecap="round"/>
<circle cx="552.5" cy="56.4" r="2.2" fill="#1f77b4"/>
<rect x="487.4" y="54.3" width="68.3" height="56.3" fill="none" stroke="#000" stroke-width="0.9"/>
<line x1="495.45" y1="110.6" x2="495.45" y2="113.1" stroke="#000" stroke-width="0.7"/>
<line x1="484.9" y1="103.90" x2="487.4" y2="103.90" stroke="#000" stroke-width="0.7"/>
<text x="495.45" y="122.50" font-size="7.85" text-anchor="middle" textLength="11.42" lengthAdjust="spacingAndGlyphs">−3</text>
<text x="469.98" y="106.70" font-size="7.85" textLength="11.42" lengthAdjust="spacingAndGlyphs">−3</text>
<line x1="507.50" y1="110.6" x2="507.50" y2="113.1" stroke="#000" stroke-width="0.7"/>
<line x1="484.9" y1="93.85" x2="487.4" y2="93.85" stroke="#000" stroke-width="0.7"/>
<text x="507.50" y="122.50" font-size="7.85" text-anchor="middle" textLength="11.42" lengthAdjust="spacingAndGlyphs">−2</text>
<text x="469.98" y="96.65" font-size="7.85" textLength="11.42" lengthAdjust="spacingAndGlyphs">−2</text>
<line x1="519.55" y1="110.6" x2="519.55" y2="113.1" stroke="#000" stroke-width="0.7"/>
<line x1="484.9" y1="83.80" x2="487.4" y2="83.80" stroke="#000" stroke-width="0.7"/>
<text x="519.55" y="122.50" font-size="7.85" text-anchor="middle" textLength="11.42" lengthAdjust="spacingAndGlyphs">−1</text>
<text x="469.98" y="86.60" font-size="7.85" textLength="11.42" lengthAdjust="spacingAndGlyphs">−1</text>
<line x1="531.60" y1="110.6" x2="531.60" y2="113.1" stroke="#000" stroke-width="0.7"/>
<line x1="484.9" y1="73.75" x2="487.4" y2="73.75" stroke="#000" stroke-width="0.7"/>
<text x="531.60" y="122.50" font-size="7.85" text-anchor="middle" textLength="4.93" lengthAdjust="spacingAndGlyphs">0</text>
<text x="476.47" y="76.55" font-size="7.85" textLength="4.93" lengthAdjust="spacingAndGlyphs">0</text>
<line x1="543.65" y1="110.6" x2="543.65" y2="113.1" stroke="#000" stroke-width="0.7"/>
<line x1="484.9" y1="63.70" x2="487.4" y2="63.70" stroke="#000" stroke-width="0.7"/>
<text x="543.65" y="122.50" font-size="7.85" text-anchor="middle" textLength="4.93" lengthAdjust="spacingAndGlyphs">1</text>
<text x="476.47" y="66.50" font-size="7.85" textLength="4.93" lengthAdjust="spacingAndGlyphs">1</text>
<text x="521.50" y="132.30" font-size="7.85" text-anchor="middle" textLength="52.71" lengthAdjust="spacingAndGlyphs">Fixed weights</text>
<g transform="translate(464.5,82.8) rotate(-90)"><text x="0.00" y="0.00" font-size="7.85" text-anchor="middle" textLength="73.30" lengthAdjust="spacingAndGlyphs">Optimized weights</text></g>
<!--INSET2-->
</svg></body></html>
